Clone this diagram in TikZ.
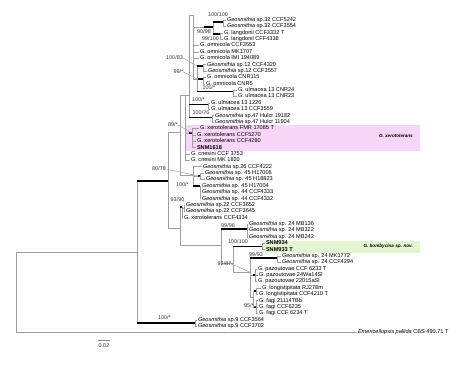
\documentclass[tikz,border=0pt]{standalone}
\usepackage{fontspec}
\setmainfont{Liberation Sans}
\usetikzlibrary{calc}
\definecolor{xeropink}{RGB}{247,214,247}
\definecolor{bombgreen}{RGB}{228,245,208}
\newcommand{\Gs}{\textit{Geosmithia}}

\begin{document}
\begin{tikzpicture}[x=1pt,y=-1pt,
  br/.style={draw=gray!75,line width=0.5pt},
  thk/.style={draw=black,line width=1.9pt},
  tip/.style={anchor=west,inner sep=0pt,outer xsep=1pt,text height=4pt,text depth=1.2pt,font=\fontsize{5.6}{6}\selectfont},
  bs/.style={inner sep=0pt,text=black!80,font=\fontsize{5.4}{6}\selectfont},
  clade/.style={anchor=east,inner sep=0pt,font=\fontsize{4.6}{5}\selectfont\bfseries\itshape}]
\useasboundingbox (0,0) rectangle (474,370);
% shaded clades
\fill[xeropink] (185,125) rectangle (420,151);
\fill[bombgreen] (262,240.5) rectangle (420,252.5);
\node[clade] (kx) at (413,135.5) {G. xerotolerans};
\node[clade] (kb) at (413,246.5) {G. bombycina sp. nov.};
% taxa
\foreach \n/\x/\txt in {1/227/{\Gs{} sp.32 CCF5242},2/227/{\Gs{} sp.32 CCF3554},3/224/{G. langdonii CCF3332 T},
  4/224/{G. langdonii CFF4338},5/200/{G. omnicola CCF3553},6/200/{G. omnicola MK1707},7/200/{G. omnicola IMI 194089},
  8/207/{\Gs{} sp.12 CCF4320},9/208/{\Gs{} sp.12 CCF3557},10/207/{G. omnicola CNR115},11/206/{G. omnicola CNR5},
  12/238/{G. ulmacea 13 CNR24},13/238/{G. ulmacea 13 CNR23},14/211/{G. ulmacea 13 1226},15/211/{G. ulmacea 13 CCF3559},
  16/215/{\Gs{} sp.47 Hulcr 19182},17/215/{\Gs{} sp.47 Hulcr 11904},18/200/{G. xerotolerans FMR 17085 T},
  19/197/{G. xerotolerans CCF5270},20/197/{G. xerotolerans CCF4280},21/197/{\textbf{SNM1618}},
  22/191/{G. cnesini CCF 3753},23/191/{G. cnesini MK 1820},24/203/{\Gs{} sp.26 CCF4222},
  25/205/{\Gs{} sp. 45 H17006},26/206/{\Gs{} sp. 45 H18823},27/202/{\Gs{} sp. 45 H17004},
  28/202/{\Gs{} sp. 44 CCF4333},29/202/{\Gs{} sp. 44 CCF4332},30/186/{\Gs{} sp.22 CCF3652},
  31/186/{\Gs{} sp.22 CCF3645},32/184/{G. xerotolerans CCF4334},33/249/{\Gs{} sp. 24 MB136},
  34/249/{\Gs{} sp. 24 MB322},35/249/{\Gs{} sp. 24 MB242},36/266/{\textbf{SNM934}},37/266/{\textbf{SNM933 T}},
  38/282/{\Gs{} sp. 24 MK1772},39/282/{\Gs{} sp. 24 CCF4294},40/258/{G. pazoutovae CCF 6233 T},
  41/259/{G. pazoutovae 24Wa14Sl},42/258/{G. pazoutovae 22015aSl},43/262/{G. longistipitata RJ278m},
  44/259/{G. longistipitata CCF4210 T},45/259/{G. fagi 21114TBb},46/259/{G. fagi CCF6235},
  47/259/{G. fagi CCF 6234 T},48/198/{\Gs{} sp.9 CCF3564},49/198/{\Gs{} sp.9 CCF3702}}
  \node[tip] (t\n) at ({\x-1},{20+(\n-1)*6.38}) {\txt};
\node[tip] (t50) at (357,332) {\textit{Emericellopsis pallida} CBS 490.71 T};
% internal nodes
\coordinate (nRt) at (16,292);   \coordinate (nA) at (137,252);  \coordinate (nB) at (168,181);
\coordinate (nC) at (180,132);   \coordinate (nD) at (180,228);  \coordinate (nH) at (185,95);
\coordinate (nP) at (189,95);    \coordinate (nQ) at (193,15);   \coordinate (nL) at (213,27.3);
\coordinate (nS32) at (223,21.7); \coordinate (nLg) at (220,33.7); \coordinate (nN) at (197,79);
\coordinate (nS12) at (203,66);  \coordinate (nCN) at (203,79);  \coordinate (nUC) at (233,91.5);
\coordinate (nU1) at (208,104.5); \coordinate (nU2) at (212,117.5); \coordinate (nX) at (192,133);
\coordinate (nG) at (193,175);   \coordinate (nG1) at (200,176.3); \coordinate (nG2) at (200,186);
\coordinate (nF) at (182,207);   \coordinate (nF1) at (184,208.2); \coordinate (nE) at (221,245);
\coordinate (nMB) at (247,229);  \coordinate (nR) at (233,263);  \coordinate (nSN) at (262,246.5);
\coordinate (nT) at (250,272);   \coordinate (nMK) at (277,258); \coordinate (nPz) at (255,275.2);
\coordinate (nW) at (253,297);   \coordinate (nLs) at (256,291.2); \coordinate (nFg) at (256,307.1);
\coordinate (nS9) at (195,323);
% branches
\foreach \p/\c in {nRt/nA,nA/nB,nA/nS9,nB/nC,nB/nD,nC/nH,nC/nG,nH/nP,nH/nX,nP/nQ,nP/nU1,nP/nU2,
  nQ/nL,nQ/nN,nL/nS32,nL/nLg,nN/nS12,nN/nCN,nN/nUC,nG/nG1,nG/nG2,nD/nF,nD/nE,nF/nF1,
  nE/nMB,nE/nR,nR/nSN,nR/nT,nT/nMK,nT/nPz,nT/nW,nW/nLs,nW/nFg}
  \draw[br] (\p) |- (\c);
\foreach \p/\c in {nS32/t1,nS32/t2,nLg/t3,nLg/t4,nQ/t5,nQ/t6,nQ/t7,nS12/t8,nS12/t9,nCN/t10,nCN/t11,
  nUC/t12,nUC/t13,nU1/t14,nU1/t15,nU2/t16,nU2/t17,nX/t18,nX/t19,nX/t20,nX/t21,nH/t22,nH/t23,
  nG/t24,nG1/t25,nG1/t26,nG2/t27,nG2/t28,nG2/t29,nF1/t30,nF1/t31,nF/t32,nMB/t33,nMB/t34,nMB/t35,
  nSN/t36,nSN/t37,nMK/t38,nMK/t39,nPz/t40,nPz/t41,nPz/t42,nLs/t43,nLs/t44,nFg/t45,nFg/t46,nFg/t47,
  nS9/t48,nS9/t49,nRt/t50}
  \draw[br] (\p) |- (\c.west);
% supported branches
\foreach \p/\c in {nA/nB,nA/nS9,nL/nS32,nL/nLg,nN/nS12,nN/nUC,nP/nU1,nP/nU2,nG/nG2,nD/nF,nE/nMB,nR/nSN,nT/nMK}
  \draw[thk] (\p |- \c) -- (\c);
\draw[thk] (nL) -- ++(-9,0); \draw[thk] (nCN) -- ++(-5,0); \draw[thk] (nX) -- ++(-3,0);
\draw[thk] (nG1) -- ++(-2.5,0); \draw[thk] (nPz) -- ++(-2.5,0); \draw[thk] (nLs) -- ++(-2.5,0);
\draw[thk] (nFg) -- ++(-2.5,0);
% support values
\node[bs] (s1) at (218,15) {100/100};   \node[bs] (s2) at (204,32) {90/98};
\node[bs] (s3) at (210.5,39) {99/100};  \node[bs] (s4) at (174.5,58) {100/83};
\node[bs] (s5) at (178.5,72) {99/*};    \node[bs] (s6) at (209,88) {100/*};
\node[bs] (s7) at (198.5,100) {100/*};  \node[bs] (s8) at (201,113) {100/76};
\node[bs] (s9) at (173,125) {89/*};     \node[bs] (s10) at (159,169) {80/78};
\node[bs] (s11) at (182.5,185) {100/*}; \node[bs] (s12) at (177.5,200) {93/90};
\node[bs] (s13) at (228,226) {99/96};   \node[bs] (s14) at (238,242) {100/100};
\node[bs] (s15) at (256,255) {99/93};   \node[bs] (s16) at (224.5,264) {92/87};
\node[bs] (s17) at (249,306) {95/*};    \node[bs] (s18) at (164.5,318) {100/*};
\draw[br] (s4.east) -- (nN |- nS12); \draw[br] (s5.east) -- (nN |- nCN);
\draw[br] (s9.east) -- (nX); \draw[br] (s10.east) -- (nG1);
\draw[br] (s16.east) -- (nT); \draw[br] (s17.east) -- (nFg);
% scale
\coordinate (sb1) at (98,340); \coordinate (sb2) at (110,340);
\draw[br,draw=gray!90] (sb1) -- (sb2);
\node[bs] (sbl) at ($(sb1)!0.5!(sb2)+(0,6)$) {0.02};
\end{tikzpicture}
\end{document}
